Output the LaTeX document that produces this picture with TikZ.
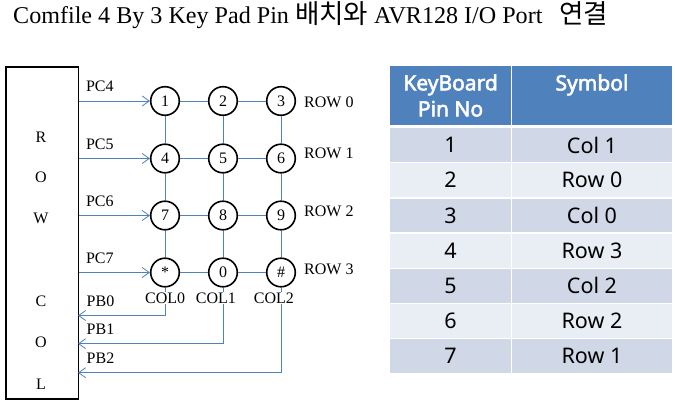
\documentclass[tikz,border=0pt]{standalone}
\usepackage{fontspec}
\setmainfont{Liberation Serif}
\newfontfamily\korfont[Scale=1.1]{Noto Sans CJK KR}
\newfontfamily\tabfont{Noto Sans}
\newfontfamily\tabbold[FakeBold=2.5]{Noto Sans}
\usetikzlibrary{arrows.meta}
\definecolor{linkblue}{HTML}{4F81BD}
\definecolor{rowdark}{HTML}{D0D8E8}
\definecolor{rowlight}{HTML}{E9EDF4}
\tikzset{
	key/.style={draw, circle, line width=1.6pt, fill=white, minimum size=28.6pt, inner sep=0pt, font=\fontsize{16}{16}\selectfont},
	link/.style={draw=linkblue, line width=0.8pt},
	port/.style={link, -{Straight Barb[length=7pt,width=10pt]}},
	label/.style={font=\fontsize{16}{16}\selectfont, inner sep=0pt},
	head/.style={fill=linkblue, text=white, minimum height=58.5pt, inner sep=0pt, font=\tabbold\fontsize{21}{26}\selectfont, align=center},
	cell/.style={minimum height=33.8pt, inner sep=0pt, font=\tabfont\fontsize{21.5}{24}\selectfont}
}
\begin{document}
\begin{tikzpicture}[x=1pt, y=-1pt]
	\useasboundingbox (0, 0) rectangle (675, 404);
	\node[anchor=west, inner sep=0pt, font=\fontsize{24.1}{24}\selectfont] (title) at (13, 15) {Comfile 4 By 3 Key Pad Pin {\korfont 배치와} AVR128 I/O Port\hspace{11pt} {\korfont 연결}};
	\node[draw, line width=1.8pt, minimum width=72.5pt, minimum height=332pt, inner sep=0pt, anchor=north west] (box) at (5, 66) {};
	\foreach \y/\t in {137/R, 177/O, 218/W, 301/C, 342.7/O, 384/L} \node[label] (side\t) at (41, \y) {\t};
	% keys
	\foreach \n/\x/\y/\t in {1/165/101/1, 2/223/101/2, 3/281/101/3, 4/165/158.5/4, 5/223/158.5/5, 6/281/158.5/6, 7/165/215.5/7, 8/223/215.5/8, 9/281/215.5/9, s/165/272.5/*, z/223/272.5/0, h/281/272.5/\#}
		\node[key] (k\n) at (\x, \y) {\t};
	% matrix lines
	\foreach \a/\b in {1/2, 2/3, 4/5, 5/6, 7/8, 8/9, s/z, z/h, 1/4, 4/7, 7/s, 2/5, 5/8, 8/z, 3/6, 6/9, 9/h}
		\draw[link] (k\a) -- (k\b);
	% row ports
	\foreach \n/\t in {1/PC4, 4/PC5, 7/PC6, s/PC7} {
		\draw[port] (box.east |- k\n) -- (k\n);
		\path (k\n.west) ++(-64, -14.3) node[label, anchor=west] (l\t) {\t};
	}
	\node[label, anchor=west] (row0) at (304, 102.7) {ROW 0};
	\node[label, anchor=west] (row1) at (304, 153.3) {ROW 1};
	\node[label, anchor=west] (row2) at (304, 211.7) {ROW 2};
	\node[label, anchor=west] (row3) at (304, 269.3) {ROW 3};
	% col ports
	\coordinate (p0) at (78, 315.5);
	\coordinate (p1) at (78, 343.7);
	\coordinate (p2) at (78, 372.7);
	\draw[port] (ks) |- (p0);
	\draw[port] (kz) |- (p1);
	\draw[port] (kh) |- (p2);
	\node[label, anchor=west, fill=white, inner sep=0.5pt] (c0) at (144.5, 298.3) {COL0};
	\node[label, anchor=west, fill=white, inner sep=0.5pt] (c1) at (195.2, 298.3) {COL1};
	\node[label, anchor=west, fill=white, inner sep=0.5pt] (c2) at (253.2, 298.3) {COL2};
	\node[label, anchor=west] (lPB0) at (86.5, 301) {PB0};
	\node[label, anchor=west] (lPB1) at (86.5, 329.3) {PB1};
	\node[label, anchor=west] (lPB2) at (86.5, 358.3) {PB2};
	% table
	\node[head, minimum width=120.7pt, anchor=north west] (hpin) at (390, 66) {KeyBoard\\Pin No};
	\node[head, minimum width=159.5pt, anchor=north west] (hsym) at (512, 66) {Symbol\\~};
	\foreach \i/\p/\s/\c in {0/1/Col 1/rowdark, 1/2/Row 0/rowlight, 2/3/Col 0/rowdark, 3/4/Row 3/rowlight, 4/5/Col 2/rowdark, 5/6/Row 2/rowlight, 6/7/Row 1/rowdark} {
		\node[cell, fill=\c, minimum width=120.7pt, anchor=north west] (p\i) at (390, 127.9+35.2*\i) {\p};
		\node[cell, fill=\c, minimum width=159.5pt, anchor=north west] (s\i) at (512, 127.9+35.2*\i) {\s};
	}
\end{tikzpicture}
\end{document}
